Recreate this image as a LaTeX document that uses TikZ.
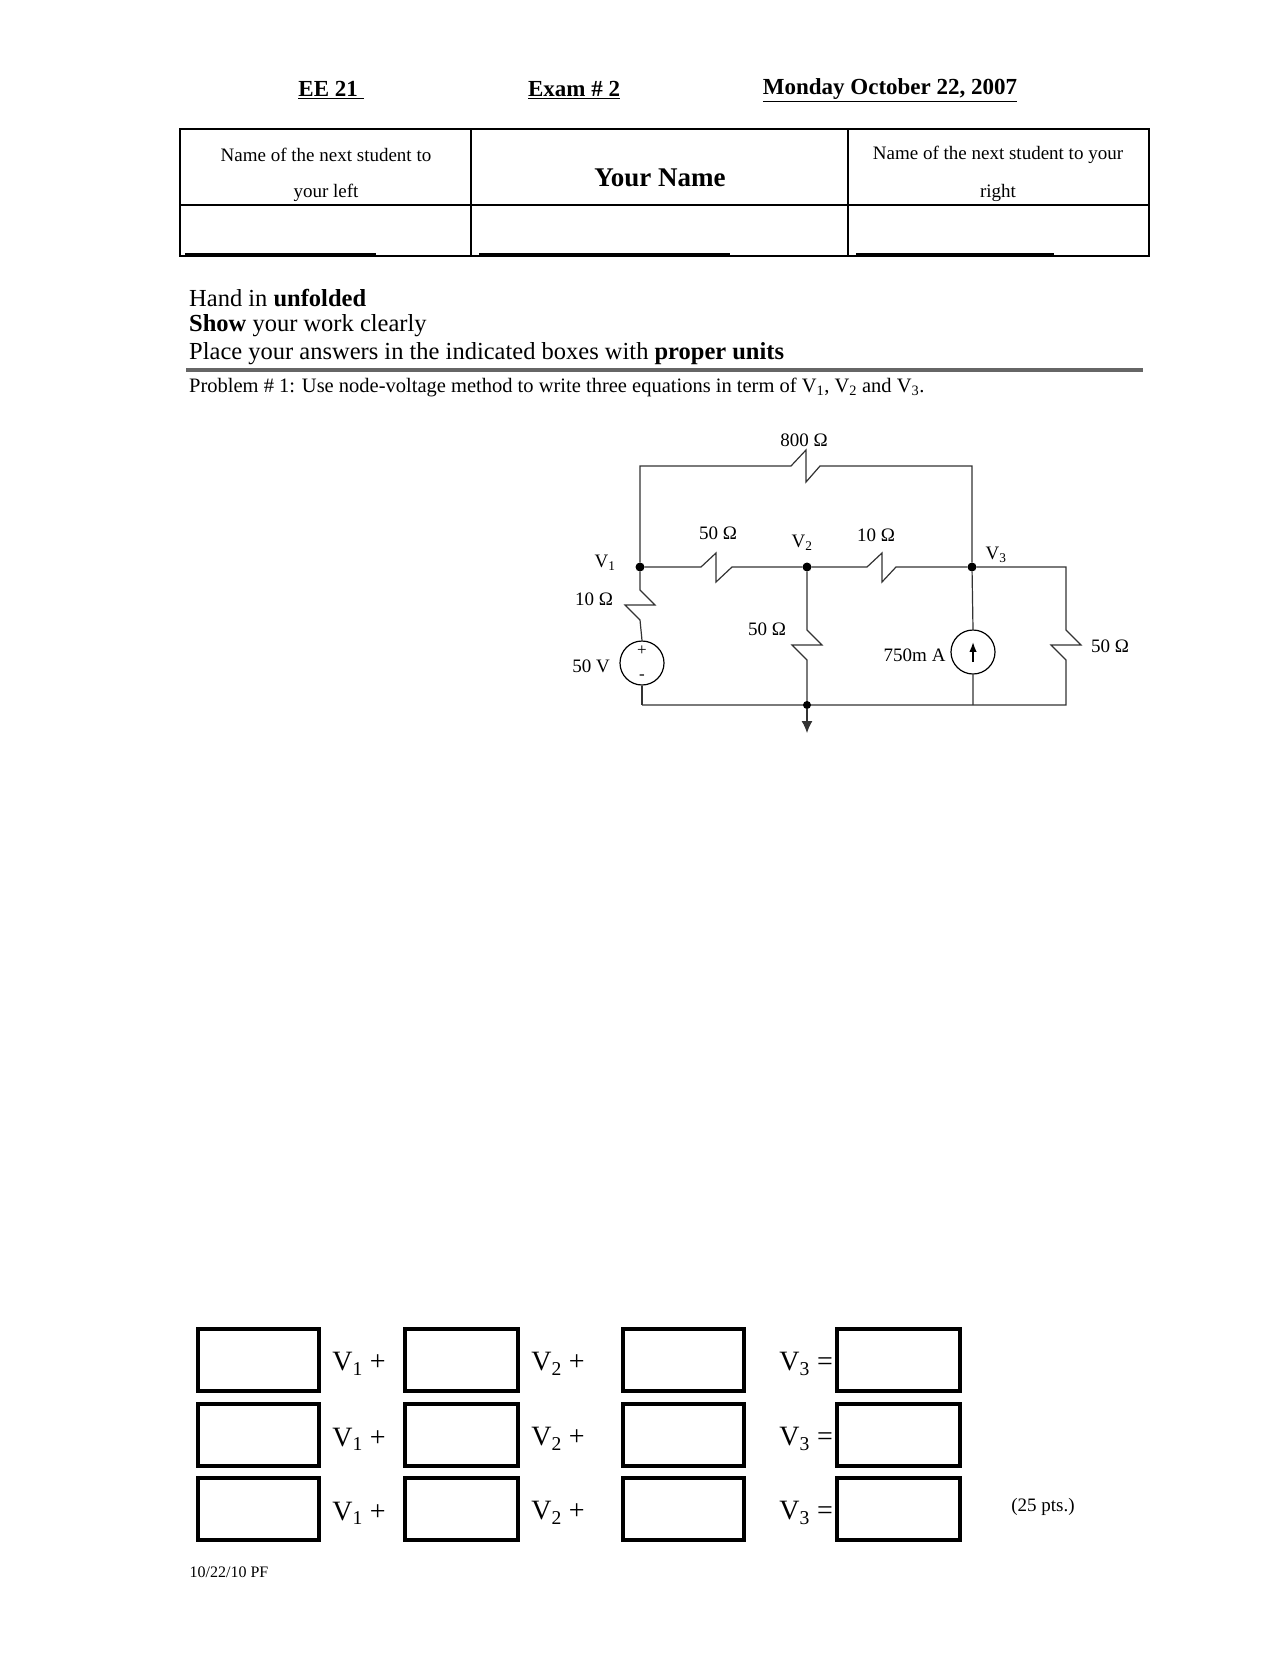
\documentclass[tikz,border=0pt]{standalone}
\usepackage{fontspec}
\usetikzlibrary{arrows.meta}
\setmainfont{Liberation Serif}
\newcommand{\fs}[1]{\fontsize{#1}{#1}\selectfont}
\newcommand{\sbs}[1]{\textsubscript{#1}}
\begin{document}
\begin{tikzpicture}[x=1pt,y=-1pt,
  wire/.style={line width=1.2pt,black!80},
  lab/.style={font=\fs{19}},
  bx/.style={draw,line width=3.5pt},
  hd/.style={font=\fs{23}\bfseries},
  tb/.style={font=\fs{19}},
  dot/.style={circle,fill,inner sep=0pt,minimum size=9pt}]
\useasboundingbox (0,0) rectangle (1280,1656);
% header
\node[hd] (h1) at (331,90) {\underline{EE 21\ }};
\node[hd] (h2) at (574,90) {\underline{Exam \# 2}};
\node[hd] (h3) at (890,90) {\underline{Monday October 22, 2007}};
% table
\draw[line width=1.5pt] (180,129) rectangle (1149,256);
\draw[line width=1.5pt] (471,129) -- (471,256) (848,129) -- (848,256) (180,205) -- (1149,205);
\draw[line width=2pt] (185,254) -- (376,254) (479,254) -- (730,254) (856,254) -- (1054,254);
\node[tb] (t1) at (326,155) {Name of the next student to};
\node[tb] (t2) at (326,193) {your left};
\node[font=\fs{27}\bfseries] (t3) at (660,178) {Your Name};
\node[tb] (t4) at (998,155) {Name of the next student to your};
\node[tb] (t5) at (998,193) {right};
% instructions
\node[font=\fs{24.5},anchor=west,inner sep=0] (i1) at (189,298) {Hand in \textbf{unfolded}};
\node[font=\fs{24.5},anchor=west,inner sep=0] (i2) at (189,326) {\textbf{Show} your work clearly};
\node[font=\fs{24.5},anchor=west,inner sep=0] (i3) at (189,354) {Place your answers in the indicated boxes with \textbf{proper units}};
\draw[line width=4pt,black!60] (186,370) -- (1143,370);
\node[font=\fs{20.5},anchor=west,inner sep=0] (p1) at (189,387) {Problem \# 1: Use node-voltage method to write three equations in term of V\sbs{1}, V\sbs{2} and V\sbs{3}.};
% circuit
\node[dot] (v1) at (640,567) {};
\node[dot] (v2) at (807,567) {};
\node[dot] (v3) at (972,567) {};
\coordinate (tl) at (640,466); \coordinate (tr) at (972,466);
\coordinate (rr) at (1066,567); \coordinate (br) at (1066,705);
\coordinate (bl) at (642,705); \coordinate (bm) at (807,705);
\coordinate (bc) at (973,705);
\node[draw,circle,line width=1.2pt,minimum size=44pt,inner sep=0] (vs) at (642,663) {};
\node[draw,circle,line width=1.2pt,minimum size=44pt,inner sep=0] (cs) at (973,652) {};
\node[font=\fs{17}] at (642,651) {+};
\node[font=\fs{17}] at (642,677) {-};
\draw[-{Latex},line width=1.5pt] (973,662) -- (973,642);
\draw[wire] (v1) -- (tl) -- (791,466) -- (806,450) -- (806,482) -- (820,466) -- (tr) -- (v3);
\draw[wire] (v1) -- (701,567) -- (716,553) -- (716,582) -- (732,567) -- (v2) -- (867,567) -- (882,553) -- (882,582) -- (896,567) -- (v3) -- (rr)
  -- (1066,630) -- (1081,645) -- (1051,645) -- (1066,660) -- (br) -- (bl);
\draw[wire] (v1) -- (640,590) -- (655,605) -- (625,605) -- (640,620) -- (vs.north);
\draw[wire] (vs.south) -- (bl);
\draw[wire] (v2) -- (807,630) -- (822,645) -- (792,645) -- (807,660) -- (bm);
\draw[wire] (v3) -- (cs.north) (cs.south) -- (bc);
\node[dot,minimum size=8pt] (g) at (bm) {};
\draw[wire,-{Latex[length=12pt,width=11pt]}] (g) -- (807,733);
\node[lab] at (804,440) {800 Ω};
\node[lab] at (718,533) {50 Ω};
\node[lab] at (876,535) {10 Ω};
\node[lab] at (802,543) {V\sbs{2}};
\node[lab] at (605,563) {V\sbs{1}};
\node[lab] at (996,555) {V\sbs{3}};
\node[lab] at (594,599) {10 Ω};
\node[lab] at (591,666) {50 V};
\node[lab] at (767,629) {50 Ω};
\node[lab,anchor=east] at (949,655) {750m A};
\node[lab] at (1110,646) {50 Ω};
% answer boxes
\foreach \r/\y in {1/1329,2/1404,3/1478}{
  \draw[bx] (198,\y) rectangle +(121,62);
  \draw[bx] (405,\y) rectangle +(113,62);
  \draw[bx] (623,\y) rectangle +(121,62);
  \draw[bx] (837,\y) rectangle +(123,62);
  \node[font=\fs{28}] at (359,\y+35) {V\sbs{1} +};
  \node[font=\fs{28}] at (558,\y+35) {V\sbs{2} +};
  \node[font=\fs{28},anchor=east,inner sep=0] at (833,\y+35) {V\sbs{3} =};
}
\node[font=\fs{19}] (pts) at (1043,1507) {(25 pts.)};
\node[font=\fs{16}] (ft) at (229,1572) {10/22/10 PF};
\end{tikzpicture}
\end{document}
